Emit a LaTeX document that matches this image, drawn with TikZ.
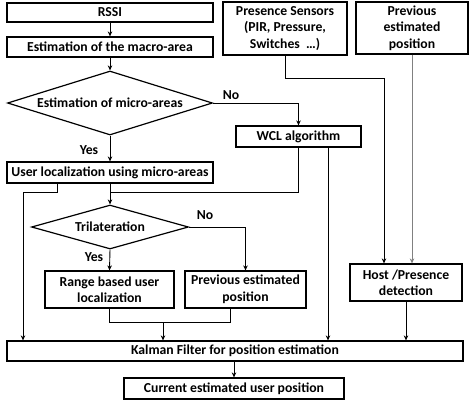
\documentclass[tikz,border=0pt]{standalone}
\usepackage{fontspec}
\setmainfont{Carlito}
\usetikzlibrary{shapes.geometric,arrows.meta}
\begin{document}
\begin{tikzpicture}[x=1pt,y=-1pt,
  every node/.style={font=\bfseries\fontsize{13.7}{16.5}\selectfont},
  box/.style={draw,line width=1.2pt,inner sep=0pt,align=center},
  dia/.style={draw,diamond,line width=1.2pt,inner sep=0pt,align=center},
  lbl/.style={inner sep=1pt},
  conn/.style={line width=0.9pt},
  arr/.style={conn,-{Stealth[length=5pt,width=4.5pt]}}]
\useasboundingbox (0,0) rectangle (474,413);
% nodes
\node[box,minimum width=206pt,minimum height=19pt] (rssi) at (110,12.5) {RSSI};
\node[box,minimum width=206pt,minimum height=20pt] (macro) at (110,47) {Estimation of the macro-area};
\node[dia,shape aspect=3.2,minimum width=205pt,minimum height=64pt] (d1) at (110,103) {Estimation of micro-areas};
\node[box,minimum width=206pt,minimum height=21pt] (user) at (110,172.5) {User localization using micro-areas};
\node[box,minimum width=125pt,minimum height=21pt] (wcl) at (298.5,136.5) {WCL algorithm};
\node[box,minimum width=124pt,minimum height=53pt] (pres) at (285,28.5) {Presence Sensors\\(PIR, Pressure,\\Switches\ \ …)};
\node[box,minimum width=112pt,minimum height=52pt] (prevtop) at (412,28) {Previous\\estimated\\position};
\node[dia,shape aspect=3.57,minimum width=157pt,minimum height=44pt] (d2) at (110,227) {Trilateration};
\node[box,minimum width=129pt,minimum height=37pt] (range) at (109.5,289.5) {Range based user\\localization};
\node[box,minimum width=121pt,minimum height=37pt] (prev) at (245.5,289.5) {Previous estimated\\position};
\node[box,minimum width=112pt,minimum height=37pt] (host) at (406,282.5) {Host /Presence\\detection};
\node[box,minimum width=456pt,minimum height=20pt] (kalman) at (235,351) {Kalman Filter for position estimation};
\node[box,minimum width=220pt,minimum height=21pt] (current) at (234,388.5) {Current estimated user position};
% labels
\node[lbl] (no1) at (231,95) {No};
\node[lbl] (yes1) at (89,150) {Yes};
\node[lbl] (no2) at (205,215) {No};
\node[lbl] (yes2) at (94,257) {Yes};
% helper coordinates
\coordinate (uL) at (57,192);
\coordinate (kL) at (23,192);
\coordinate (wj) at (298.5,192);
\coordinate (wk) at (328,0);
\coordinate (rj) at (0,322);
\coordinate (pj) at (230,322);
\coordinate (kj) at (163,322);
\coordinate (pp) at (384,78);
% connectors
\draw[arr] (rssi) -- (macro);
\draw[arr] (macro) -- (d1);
\draw[arr] (d1) -- (user);
\draw[arr] (d1.east) -| (wcl.north);
\draw[arr] (user.south) -- (d2.north);
\draw[conn] (wcl.south) -- (wj) -- (wj -| user.south);
\draw[arr] (user.south -| uL) -- (uL) -- (kL) -- (kL |- kalman.north);
\draw[arr] (wcl.south -| wk) -- (kalman.north -| wk);
\draw[arr] (d2.east) -| (prev.north);
\draw[arr] (d2.south) -- (range.north);
\draw[conn] (range.south) -- (range.south |- rj) -- (pj) -- (prev.south -| pj);
\draw[arr] (kj) -- (kj |- kalman.north);
\draw[arr] (pres.south) |- (pp) -- (pp |- host.north);
\draw[arr,draw=gray] (prevtop.south) -- (prevtop.south |- host.north);
\draw[arr] (host.south) -- (host.south |- kalman.north);
\draw[arr] (current.north |- kalman.south) -- (current.north);
\end{tikzpicture}
\end{document}
